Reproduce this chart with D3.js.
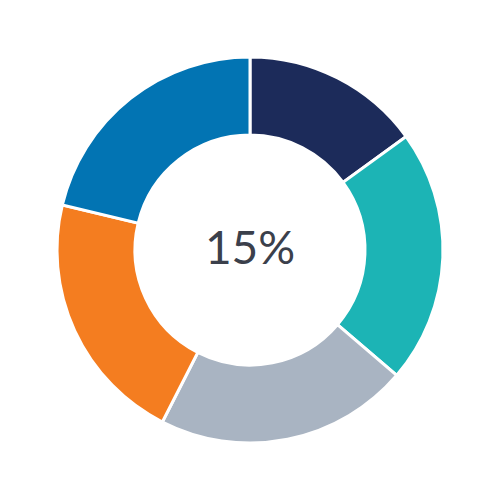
<!DOCTYPE html>
<html>
<head>
<meta charset="utf-8">
<script src="https://cdn.jsdelivr.net/npm/d3@7"></script>
<style>
  html, body { margin: 0; padding: 0; background: #ffffff; }
</style>
</head>
<body>
<div class="donutDiv"></div>
<script>
// slice data, clockwise from 12 o'clock
var sliceNames = ['Highlight', 'Teal', 'Grey', 'Orange', 'Blue'];
var sliceValues = [15, 21.25, 21.25, 21.25, 21.25];
var sliceColors = ['#1c2b5a', '#1cb4b5', '#a9b4c2', '#f47d20', '#0274b3'];
var centerLabel = '15%';

const width = 500;
const height = 500;
const outerR = 193;
const innerR = 115;

var svg = d3.select('.donutDiv')
    .append('svg')
    .attr('width', width)
    .attr('height', height)
    .append('g')
    .attr('transform', 'translate(' + (width / 2) + ',' + (height / 2) + ')');

var pie = d3.pie()
    .sort(null)
    .value(d => d.value);

var arc = d3.arc()
    .innerRadius(innerR)
    .outerRadius(outerR);

var color = d3.scaleOrdinal()
    .domain(sliceNames)
    .range(sliceColors);

var data = sliceNames.map((n, i) => ({name: n, value: sliceValues[i]}));

svg.selectAll('path')
    .data(pie(data))
    .enter()
    .append('path')
    .attr('d', arc)
    .attr('fill', d => color(d.data.name))
    .attr('stroke', '#ffffff')
    .attr('stroke-width', 3);

svg.append('text')
    .attr('text-anchor', 'middle')
    .attr('dominant-baseline', 'central')
    .attr('y', -4)
    .style('font-family', 'Lato, sans-serif')
    .style('font-size', '46px')
    .style('fill', '#3b404b')
    .text(centerLabel);
</script>
</body>
</html>
